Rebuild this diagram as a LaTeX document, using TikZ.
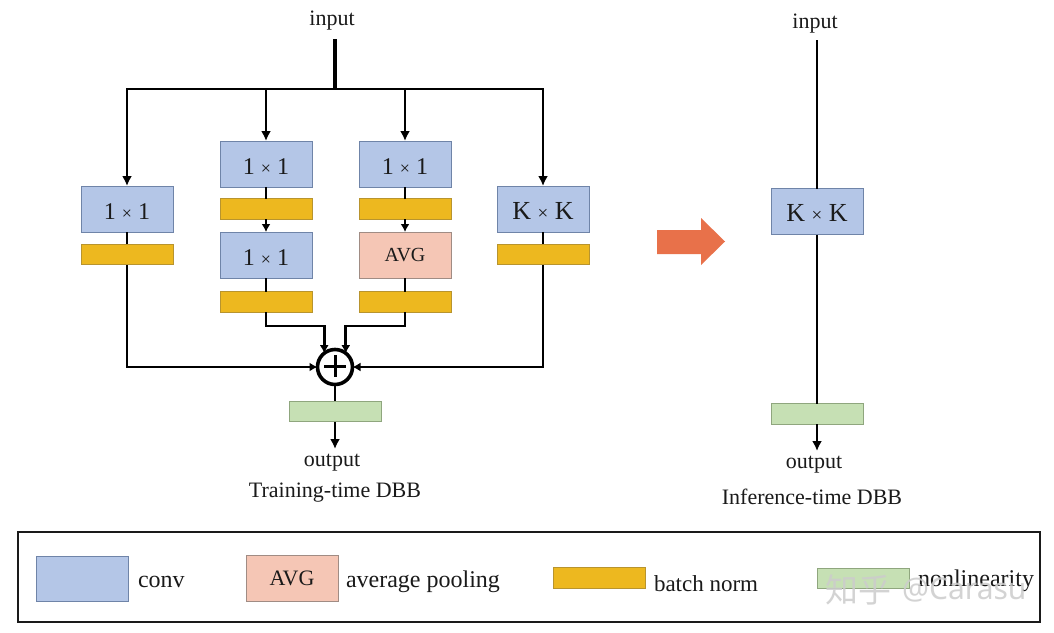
\documentclass[tikz,border=0pt]{standalone}
\usepackage{fontspec}
\setmainfont{Liberation Serif}
\newfontfamily\cjkwm{Noto Sans CJK SC}
\newfontfamily\sanswm{Noto Sans}
\usetikzlibrary{arrows.meta,calc}
\definecolor{convfill}{HTML}{B4C6E7}
\definecolor{convedge}{HTML}{6F84A8}
\definecolor{bnfill}{HTML}{EDB81F}
\definecolor{bnedge}{HTML}{B8942E}
\definecolor{avgfill}{HTML}{F5C6B5}
\definecolor{avgedge}{HTML}{A08C84}
\definecolor{nlfill}{HTML}{C6E0B4}
\definecolor{nledge}{HTML}{8FA67E}
\definecolor{bigarrow}{HTML}{E8714A}
\definecolor{ink}{HTML}{1A1A1A}
\tikzset{
  x=1pt,y=-1pt,
  block/.style={draw,line width=1pt,minimum width=92pt,inner sep=0pt,outer sep=0pt,text=ink},
  conv/.style={block,draw=convedge,fill=convfill,minimum height=46pt,text height=20pt,text depth=0pt,font=\fontsize{24}{24}\selectfont},
  avg/.style={block,draw=avgedge,fill=avgfill,minimum height=46pt,font=\fontsize{20}{20}\selectfont},
  bn/.style={block,draw=bnedge,fill=bnfill,minimum height=20.5pt},
  nl/.style={block,draw=nledge,fill=nlfill,minimum height=20.5pt},
  lab/.style={inner sep=0pt,outer sep=0pt,text=ink,font=\fontsize{22}{22}\selectfont},
  llab/.style={lab,anchor=west,font=\fontsize{24}{24}\selectfont},
  wire/.style={draw=black,line width=2.6pt},
  arr/.style={wire,-{Latex[length=10pt,width=10pt]}},
  sarr/.style={wire,-{Latex[length=8pt,width=9pt]}},
  sumnode/.style={circle,draw=black,line width=3.6pt,fill=white,minimum size=35pt,inner sep=0pt,outer sep=0pt},
}
\newcommand{\onexone}{1 {\fontsize{18}{18}\selectfont ×} 1}
\newcommand{\kxk}{K {\fontsize{19}{19}\selectfont ×} K}
\begin{document}
\begin{tikzpicture}
\useasboundingbox (0,0) rectangle (1054,632);
\fill[white] (0,0) rectangle (1054,632);

% Training-time block
\node[lab] (in1) at (332,21) {input};
\node[conv] (c1) at (127,209) {\onexone};
\node[bn] (b1) at (127,254.5) {};
\node[conv] (c2) at (266,164) {\onexone};
\node[bn] (b2) at (266,209) {};
\node[conv] (c2b) at (266,255) {\onexone};
\node[bn] (b2b) at (266,302) {};
\node[conv] (c3) at (405,164) {\onexone};
\node[bn] (b3) at (405,209) {};
\node[avg] (a3) at (405,255) {AVG};
\node[bn] (b3b) at (405,302) {};
\node[conv,font=\fontsize{26}{26}\selectfont] (c4) at (543,209) {\kxk};
\node[bn] (b4) at (543,254.5) {};
\node[sumnode] (sum) at (335,367) {};
\node[nl] (g1) at (335,411.5) {};
\node[lab] (out1) at (332,463) {output};
\node[lab] (t1) at (335,493) {Training-time DBB};

\coordinate (bus) at (335,89);
\coordinate (in1end) at (335,39);
\draw[wire,line width=3.2pt] (in1end) -- (bus);
\draw[arr] (bus) -| (c1.north);
\draw[arr] (bus) -| (c4.north);
\draw[arr] (c2.north |- bus) -- (c2.north);
\draw[arr] (c3.north |- bus) -- (c3.north);
\draw[wire] (c1.south) -- (b1.north);
\draw[wire] (c2.south) -- (b2.north);
\draw[sarr] (b2.south) -- (c2b.north);
\draw[wire] (c2b.south) -- (b2b.north);
\draw[wire] (c3.south) -- (b3.north);
\draw[sarr] (b3.south) -- (a3.north);
\draw[wire] (a3.south) -- (b3b.north);
\draw[wire] (c4.south) -- (b4.north);
\coordinate (m2) at (sum.128 |- 0,326);
\coordinate (m3) at (sum.52 |- 0,326);
\draw[sarr] (b2b.south) |- (m2) -- (sum.128);
\draw[sarr] (b3b.south) |- (m3) -- (sum.52);
\draw[sarr] (b1.south) |- (sum.west);
\draw[sarr] (b4.south) |- (sum.east);
\draw[wire] (sum.south) -- (g1.north);
\draw[arr] (g1.south) -- (g1.south |- 0,449);
\draw[black,line width=3pt] ($(sum.center)+(-11,-1)$) -- ($(sum.center)+(11,-1)$);
\draw[black,line width=3pt] ($(sum.center)+(0,-12)$) -- ($(sum.center)+(0,10)$);

% Arrow between the two blocks
\fill[bigarrow] (657,230) -- (701,230) -- (701,218) -- (725,241.5) -- (701,265) -- (701,254) -- (657,254) -- cycle;

% Inference-time block
\node[lab] (in2) at (815,24) {input};
\coordinate (in2end) at (817,40);
\node[conv,font=\fontsize{26}{26}\selectfont] (c5) at (817,211.5) {\kxk};
\node[nl] (g2) at (817,414) {};
\node[lab] (out2) at (814,465) {output};
\node[lab] (t2) at (812,497) {Inference-time DBB};
\draw[wire] (in2end) -- (c5.north);
\draw[wire] (c5.south) -- (g2.north);
\draw[arr] (g2.south) -- (g2.south |- 0,451);

% Legend
\node[draw=ink,line width=2.8pt,minimum width=1022pt,minimum height=90pt,inner sep=0pt] (legend) at (529,577) {};
\node[block,draw=convedge,fill=convfill,minimum height=45pt] (lc) at (82,578.5) {};
\node[llab] (lct) at (138,582) {conv};
\node[avg,font=\fontsize{22}{22}\selectfont] (la) at (292,578.5) {AVG};
\node[llab] (lat) at (346,582) {average pooling};
\node[bn] (lb) at (599,578) {};
\node[llab,font=\fontsize{23}{23}\selectfont] (lbt) at (654,584) {batch norm};
\node[nl] (ln) at (863.5,578.5) {};
\node[llab] (lnt) at (918,581) {nonlinearity};

% Watermark
\node[inner sep=0pt,anchor=west,text=gray!40,opacity=.85,font=\cjkwm\fontsize{33}{33}\selectfont] (wm1) at (825,590) {知乎};
\node[inner sep=0pt,anchor=west,text=gray!40,opacity=.85,font=\sanswm\fontsize{30}{30}\selectfont] (wm2) at (902,590) {@Carasu};
\end{tikzpicture}
\end{document}
